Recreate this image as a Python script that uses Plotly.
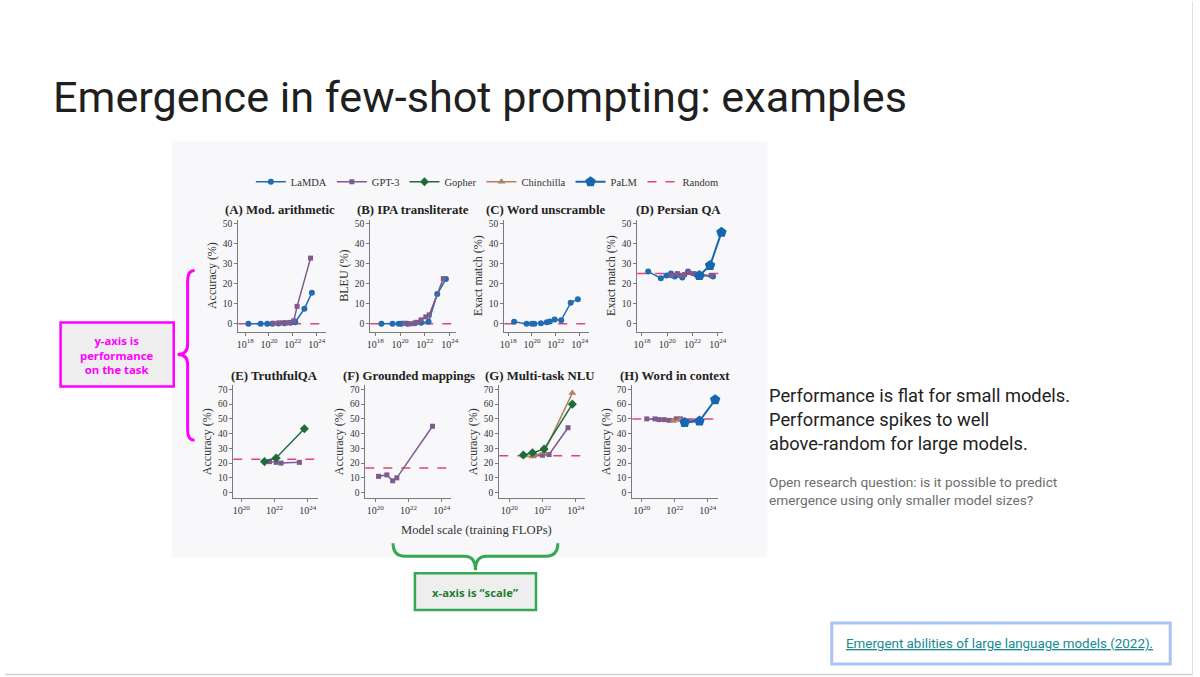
import plotly.graph_objects as go

W, H = 1200, 677

# ---------------- data (x values are log10 of training FLOPs) ----------------
PANEL_TITLES = ["(A) Mod. arithmetic", "(B) IPA transliterate", "(C) Word unscramble", "(D) Persian QA",
                "(E) TruthfulQA", "(F) Grounded mappings", "(G) Multi-task NLU", "(H) Word in context"]
Y_TITLES = ["Accuracy (%)", "BLEU (%)", "Exact match (%)", "Exact match (%)",
            "Accuracy (%)", "Accuracy (%)", "Accuracy (%)", "Accuracy (%)"]
RANDOM = [0, 0, 0, 25, 22.6, 16.7, 25, 50]

GPT3_EXP = [20.35, 20.81, 21.15, 21.38, 21.70, 22.08, 22.36, 23.49]

A_LAMDA_EXP = [18.27, 19.3, 19.86, 20.3, 20.8, 21.3, 21.8, 22.2, 22.97, 23.6]
A_LAMDA_Y = [0, 0, 0, 0, 0.2, 0.3, 0.5, 0.8, 7.5, 15.5]
A_GPT3_Y = [0.3, 0.4, 0.5, 0.5, 0.6, 1.5, 8.7, 32.7]

B_LAMDA_EXP = [18.5, 19.4, 19.9, 20.1, 20.6, 21.2, 21.7, 22.3, 23.0, 23.7]
B_LAMDA_Y = [0, 0, 0, 0, 0.1, 0.3, 0.5, 1.0, 14.8, 22.3]
B_GPT3_Y = [0.3, 0.0, 0.3, 0.8, 2.0, 3.5, 4.5, 22.5]

C_LAMDA_EXP = [18.5, 19.55, 20.0, 20.2, 20.75, 21.25, 21.5, 21.9, 22.45, 23.25, 23.85]
C_LAMDA_Y = [1.0, 0, 0, 0, 0.3, 0.8, 1.2, 2.2, 1.8, 10.5, 12.3]

D_LAMDA_EXP = [18.5, 19.5, 19.95, 20.3, 20.6, 21.2, 21.65, 22.3, 22.7, 23.63]
D_LAMDA_Y = [26, 22.7, 24, 25, 23.5, 23, 26, 24.5, 24, 23.5]
D_GPT3_Y = [24, 25, 24, 24.5, 25.5, 25, 24.5, 24]
D_PALM_EXP = [22.55, 23.4, 24.3]
D_PALM_Y = [24, 29, 45.5]

E_GOPHER_EXP = [21.4, 22.1, 23.8]
E_GOPHER_Y = [21, 23.5, 43.3]
E_GPT3_EXP = [21.7, 22.1, 22.4, 23.5]
E_GPT3_Y = [21, 20.5, 20, 20.5]

F_GPT3_EXP = [20.2, 20.7, 21.05, 21.3, 23.45]
F_GPT3_Y = [11, 12, 8, 10, 45]

G_GOPHER_EXP = [20.85, 21.4, 22.1, 23.8]
G_GOPHER_Y = [25.5, 27, 29.5, 60]
G_CHIN_EXP = [20.85, 21.4, 22.1, 23.8]
G_CHIN_Y = [25, 24.5, 27.5, 67.5]
G_GPT3_EXP = [21.5, 22.0, 22.4, 23.54]
G_GPT3_Y = [25.5, 25.3, 25.8, 44]

H_GPT3_EXP = [20.3, 20.8, 21.05, 21.35, 21.65, 22.1, 22.35, 23.5]
H_GPT3_Y = [50, 50, 49.5, 49.5, 49, 50, 50, 48.5]
H_CHIN_EXP = [21.9, 22.3]
H_CHIN_Y = [48.5, 49.5]
H_PALM_EXP = [22.6, 23.5, 24.45]
H_PALM_Y = [47.5, 48.5, 63]

SERIES_ORDER = ["LaMDA", "GPT-3", "Gopher", "Chinchilla", "PaLM"]

# ---------------- styles ----------------
STYLE = {
    "LaMDA": dict(color="#1f6cb0", symbol="circle", size=6, width=1.5),
    "GPT-3": dict(color="#7d5b8e", symbol="square", size=5, width=1.5),
    "Gopher": dict(color="#1e6b3b", symbol="diamond", size=7, width=1.5),
    "Chinchilla": dict(color="#b5805f", symbol="triangle-up", size=7, width=1.5),
    "PaLM": dict(color="#1766b0", symbol="pentagon", size=11, width=2),
}
RANDOM_COLOR = "#e0457a"
SERIF = "Liberation Serif"
SANS = "Roboto"
BOX_FONT = "Open Sans"


def px_x(x):
    return x / W


def px_y(y):
    return 1 - y / H


def path_from(points):
    out = []
    for cmd, coords in points:
        pts = []
        for k in range(0, len(coords), 2):
            pts.append(f"{px_x(coords[k]):.5f},{px_y(coords[k + 1]):.5f}")
        out.append(cmd + " " + " ".join(pts))
    return " ".join(out)


X_DOMAINS = [(235, 323), (368, 454), (503, 588), (637, 723),
             (230, 315), (363, 449), (498, 584), (632, 718)]
X_RANGES = [(17.42, 24.75), (17.6, 24.48), (17.67, 24.75), (17.63, 24.39),
            (19.52, 24.6), (19.4, 24.54), (19.4, 24.54), (19.42, 24.6)]
ROW_Y = [(219, 331), (385, 497.7)]
ROW_RANGE = [(-3.8, 51.8), (-3.66, 72.7)]
TITLE_X = [277, 411, 545, 679, 272, 407, 539, 675]
TITLE_Y = [209.3, 376]

panel_series = {
    1: [("LaMDA", A_LAMDA_EXP, A_LAMDA_Y), ("GPT-3", GPT3_EXP, A_GPT3_Y)],
    2: [("LaMDA", B_LAMDA_EXP, B_LAMDA_Y), ("GPT-3", GPT3_EXP, B_GPT3_Y)],
    3: [("LaMDA", C_LAMDA_EXP, C_LAMDA_Y)],
    4: [("LaMDA", D_LAMDA_EXP, D_LAMDA_Y), ("GPT-3", GPT3_EXP, D_GPT3_Y), ("PaLM", D_PALM_EXP, D_PALM_Y)],
    5: [("GPT-3", E_GPT3_EXP, E_GPT3_Y), ("Gopher", E_GOPHER_EXP, E_GOPHER_Y)],
    6: [("GPT-3", F_GPT3_EXP, F_GPT3_Y)],
    7: [("GPT-3", G_GPT3_EXP, G_GPT3_Y), ("Chinchilla", G_CHIN_EXP, G_CHIN_Y), ("Gopher", G_GOPHER_EXP, G_GOPHER_Y)],
    8: [("GPT-3", H_GPT3_EXP, H_GPT3_Y), ("Chinchilla", H_CHIN_EXP, H_CHIN_Y), ("PaLM", H_PALM_EXP, H_PALM_Y)],
}

fig = go.Figure()

# legend-only traces
for name in SERIES_ORDER:
    s = STYLE[name]
    fig.add_trace(go.Scatter(x=[None], y=[None], name=name, mode="lines+markers",
                             line=dict(color=s["color"], width=s["width"]),
                             marker=dict(symbol=s["symbol"], size=s["size"], color=s["color"]),
                             showlegend=True))
fig.add_trace(go.Scatter(x=[None], y=[None], name="Random", mode="lines",
                         line=dict(color=RANDOM_COLOR, width=1.5, dash="dash"), showlegend=True))

layout_axes = {}
shapes = []
annotations = []

# chart image background
shapes.append(dict(type="rect", xref="paper", yref="paper", x0=px_x(168), x1=px_x(768),
                    y0=px_y(557), y1=px_y(140), fillcolor="#f8f7f9", line=dict(width=0), layer="below"))

for i in range(1, 9):
    row = 0 if i <= 4 else 1
    xa = "xaxis" if i == 1 else f"xaxis{i}"
    ya = "yaxis" if i == 1 else f"yaxis{i}"
    xr = "x" if i == 1 else f"x{i}"
    yr = "y" if i == 1 else f"y{i}"
    tickexp = [18, 20, 22, 24] if row == 0 else [20, 22, 24]
    layout_axes[xa] = dict(
        domain=[px_x(X_DOMAINS[i - 1][0]), px_x(X_DOMAINS[i - 1][1])],
        type="log", range=list(X_RANGES[i - 1]), anchor=yr,
        tickvals=[10.0 ** e for e in tickexp], ticktext=[f"10<sup>{e}</sup>" for e in tickexp],
        showline=True, linecolor="#7a7a7a", linewidth=1, ticks="outside", ticklen=3,
        tickcolor="#7a7a7a", showgrid=False, zeroline=False,
        tickfont=dict(family=SERIF, size=10, color="#333"),
    )
    yticks = list(range(0, 51, 10)) if row == 0 else list(range(0, 71, 10))
    layout_axes[ya] = dict(
        domain=[px_y(ROW_Y[row][1]), px_y(ROW_Y[row][0])],
        range=list(ROW_RANGE[row]), anchor=xr,
        tickvals=yticks, showline=True, linecolor="#7a7a7a", linewidth=1,
        ticks="outside", ticklen=3, tickcolor="#7a7a7a", showgrid=False, zeroline=False,
        tickfont=dict(family=SERIF, size=9.5, color="#333"),
        title=dict(text=Y_TITLES[i - 1], font=dict(family=SERIF, size=12, color="#333"), standoff=3),
    )
    for name, exps, ys in panel_series[i]:
        s = STYLE[name]
        fig.add_trace(go.Scatter(
            x=[10.0 ** e for e in exps], y=ys, xaxis=xr, yaxis=yr, mode="lines+markers",
            name=name, showlegend=False, cliponaxis=False,
            line=dict(color=s["color"], width=s["width"]),
            marker=dict(symbol=s["symbol"], size=s["size"], color=s["color"]),
        ))
    shapes.append(dict(type="line", xref=f"{xr} domain", yref=yr, x0=0, x1=1,
                        y0=RANDOM[i - 1], y1=RANDOM[i - 1],
                        line=dict(color=RANDOM_COLOR, width=1.5, dash="dash"), layer="below"))
    annotations.append(dict(text=f"<b>{PANEL_TITLES[i - 1]}</b>", xref="paper", yref="paper",
                            x=px_x(TITLE_X[i - 1]), y=px_y(TITLE_Y[row]), xanchor="center",
                            yanchor="middle", showarrow=False,
                            font=dict(family=SERIF, size=12.8, color="#222")))

annotations.append(dict(text="Model scale (training FLOPs)", xref="paper", yref="paper",
                        x=px_x(475), y=px_y(530), xanchor="center", yanchor="middle",
                        showarrow=False, font=dict(family=SERIF, size=12.6, color="#333")))

# slide title
annotations.append(dict(text="Emergence in few-shot prompting: examples", xref="paper", yref="paper",
                        x=px_x(46), y=px_y(97), xanchor="left", yanchor="middle", showarrow=False,
                        font=dict(family=SANS, size=43.2, color="#1f1f1f")))

# right-hand text
annotations.append(dict(text="Performance is flat for small models.<br>Performance spikes to well<br>"
                             "above-random for large models.",
                        xref="paper", yref="paper", x=px_x(768), y=px_y(419), xanchor="left",
                        yanchor="middle", align="left", showarrow=False,
                        font=dict(family=SANS, size=18.3, color="#222")))
annotations.append(dict(text="Open research question: is it possible to predict<br>"
                             "emergence using only smaller model sizes?",
                        xref="paper", yref="paper", x=px_x(768), y=px_y(491), xanchor="left",
                        yanchor="middle", align="left", showarrow=False,
                        font=dict(family=SANS, size=13.7, color="#6e6e6e")))

# magenta call-out
shapes.append(dict(type="rect", xref="paper", yref="paper", x0=px_x(56), x1=px_x(170),
                    y0=px_y(386), y1=px_y(322), fillcolor="#eeeeee",
                    line=dict(color="#ff00ff", width=2.5)))
annotations.append(dict(text="<b>y-axis is<br>performance<br>on the task</b>", xref="paper", yref="paper",
                        x=px_x(113), y=px_y(355), xanchor="center", yanchor="middle", align="center",
                        showarrow=False, font=dict(family=BOX_FONT, size=11.3, color="#ff00ff")))
shapes.append(dict(type="path", xref="paper", yref="paper", line=dict(color="#ff00ff", width=3),
                    path=path_from([("M", [191, 270]), ("Q", [184, 270, 184, 280]), ("L", [184, 344]),
                                    ("Q", [184, 354, 174, 354]), ("Q", [184, 354, 184, 364]),
                                    ("L", [184, 430]), ("Q", [184, 440, 191, 440])])))

# green call-out
shapes.append(dict(type="path", xref="paper", yref="paper", line=dict(color="#34a853", width=3),
                    path=path_from([("M", [391, 543]), ("Q", [391, 556, 403, 556]), ("L", [463, 556]),
                                    ("Q", [474, 556, 474, 570]), ("Q", [474, 556, 485, 556]),
                                    ("L", [545, 556]), ("Q", [557, 556, 557, 543])])))
shapes.append(dict(type="rect", xref="paper", yref="paper", x0=px_x(413), x1=px_x(535),
                    y0=px_y(610), y1=px_y(573), fillcolor="#eeeeee",
                    line=dict(color="#34a853", width=2.5)))
annotations.append(dict(text="<b>x-axis is \u201cscale\u201d</b>", xref="paper", yref="paper",
                        x=px_x(474), y=px_y(592), xanchor="center", yanchor="middle",
                        showarrow=False, font=dict(family=BOX_FONT, size=11.3, color="#1e7e34")))

# reference link box
shapes.append(dict(type="rect", xref="paper", yref="paper", x0=px_x(833), x1=px_x(1174),
                    y0=px_y(664), y1=px_y(623), fillcolor="white",
                    line=dict(color="#a8c4f5", width=3)))
annotations.append(dict(text="<u>Emergent abilities of large language models (2022).</u>",
                        xref="paper", yref="paper", x=px_x(845), y=px_y(643), xanchor="left",
                        yanchor="middle", showarrow=False,
                        font=dict(family=SANS, size=13.4, color="#178a93")))

# slide border
shapes.append(dict(type="line", xref="paper", yref="paper", x0=0, x1=px_x(1197),
                    y0=px_y(674.5), y1=px_y(674.5), line=dict(color="#cfcfcf", width=1.5)))
shapes.append(dict(type="line", xref="paper", yref="paper", x0=px_x(1196.5), x1=px_x(1196.5),
                    y0=px_y(674.5), y1=1, line=dict(color="#e0e0e0", width=1)))

fig.update_layout(
    width=W, height=H, margin=dict(l=0, r=0, t=0, b=0),
    paper_bgcolor="white", plot_bgcolor="rgba(0,0,0,0)",
    showlegend=True,
    legend=dict(orientation="h", x=px_x(486), xanchor="center", y=px_y(181), yanchor="middle",
                font=dict(family=SERIF, size=10.5, color="#333"), bgcolor="rgba(0,0,0,0)",
                itemwidth=30),
    shapes=shapes, annotations=annotations,
    **layout_axes,
)

fig.write_html("out.html")
